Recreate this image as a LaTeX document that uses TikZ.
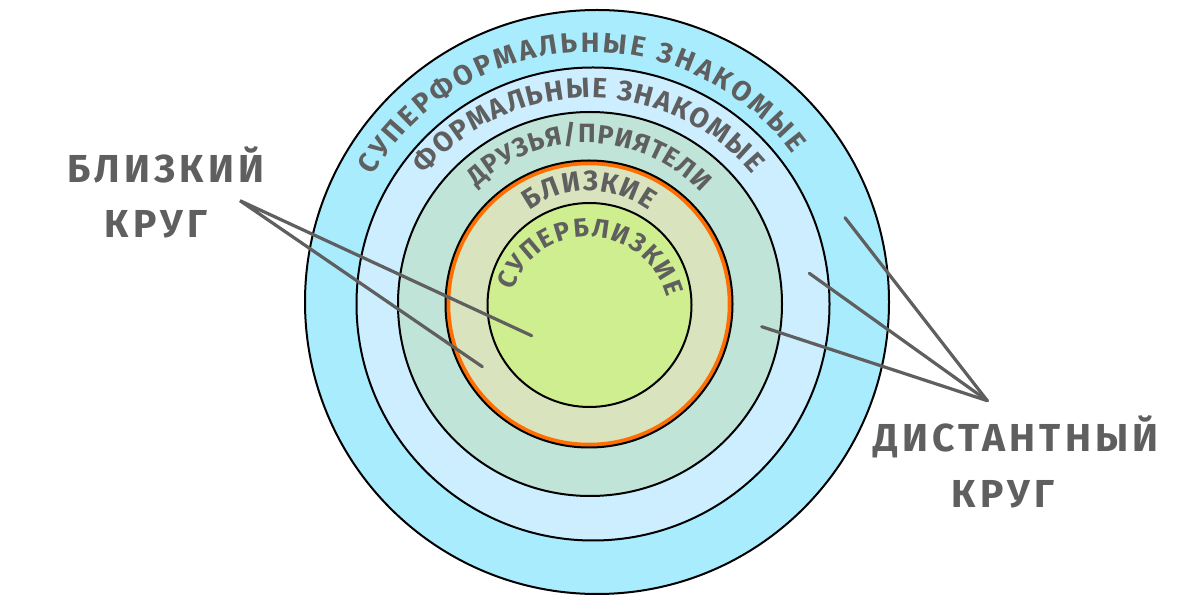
\documentclass[tikz,border=0pt]{standalone}
\usepackage{fontspec}
\setmainfont{Fira Sans}
\usepackage{tikz}
\usetikzlibrary{decorations.text}

\definecolor{ink}{RGB}{95,95,95}
\definecolor{superformal}{RGB}{168,236,253}
\definecolor{formal}{RGB}{204,238,255}
\definecolor{friends}{RGB}{192,228,216}
\definecolor{close}{RGB}{217,228,190}
\definecolor{superclose}{RGB}{207,238,143}
\definecolor{closeline}{RGB}{255,110,0}

\newcommand\ringfont{\fontsize{28}{28}\selectfont\bfseries\color{ink}}
\newcommand\friendfont{\fontsize{26.5}{28}\selectfont\bfseries\color{ink}}
\newcommand\innerfont{\fontsize{26}{28}\selectfont\bfseries\color{ink}}
\newcommand\labelfont{\fontsize{39}{44}\selectfont\bfseries\addfontfeatures{LetterSpace=11}}

\begin{document}
\begin{tikzpicture}[x=1pt, y=1pt,
    ring/.style={draw=black, line width=2pt},
    pointer/.style={draw=ink, line width=3.2pt, line cap=round},
    label/.style={text=ink, font=\labelfont, inner sep=0pt, anchor=base},
    ringtext/.style={decorate, decoration={text along path, text align={fit to path}, text={#1}}}]
    \useasboundingbox (0,0) rectangle (1200,600);
    \fill[white] (0,0) rectangle (1200,600);

    % Rings from outside to inside
    \fill[superformal] (597,298) circle[radius=292]; \draw[ring] (597,298) circle[radius=292];
    \fill[formal] (593,296) circle[radius=236.5]; \draw[ring] (593,296) circle[radius=236.5];
    \fill[friends] (590,296) circle[radius=192]; \draw[ring] (590,296) circle[radius=192];
    \fill[close] (589,296) circle[radius=141]; \draw[closeline, line width=4.5pt] (589,296) circle[radius=141];
    \draw[ring] (589,296) circle[radius=143.5];
    \fill[superclose] (589.5,295) circle[radius=102]; \draw[ring] (589.5,295) circle[radius=102];

    % Ring names
    \path[ringtext={|\ringfont|СУПЕРФОРМАЛЬНЫЕ ЗНАКОМЫЕ}] (590,296) ++(149.4:252) arc[start angle=149.4, end angle=36.5, radius=252];
    \path[ringtext={|\ringfont|ФОРМАЛЬНЫЕ ЗНАКОМЫЕ}] (588.6,289) ++(140.2:213) arc[start angle=140.2, end angle=40, radius=213];
    \path[ringtext={|\friendfont|ДРУЗЬЯ/ПРИЯТЕЛИ}] (586,299) ++(134:158) arc[start angle=134, end angle=43.5, radius=158];
    \path[ringtext={|\ringfont|БЛИЗКИЕ}] (589,309) ++(126.4:100) arc[start angle=126.4, end angle=53.6, radius=100];
    \path[ringtext={|\innerfont|СУПЕРБЛИЗКИЕ}] (588.5,282) ++(160:81) arc[start angle=160, end angle=15, radius=81];

    % Labels
    \node[label] (closeTop) at (166,417) {БЛИЗКИЙ};
    \node[label] (closeBottom) at (156,362) {КРУГ};
    \node[label] (farTop) at (1016,148) {ДИСТАНТНЫЙ};
    \node[label] (farBottom) at (1003,92) {КРУГ};

    % Pointers
    \coordinate (closeTip) at (240,399.3);
    \coordinate (superEnd) at (531.7,264.3);
    \coordinate (closeEnd) at (482.3,233.3);
    \coordinate (farTip) at (987.3,199.3);
    \coordinate (superformalEnd) at (845,382.3);
    \coordinate (formalEnd) at (809.3,326.7);
    \coordinate (friendsEnd) at (761.7,273.3);
    \draw[pointer] (superEnd) -- (closeTip) -- (closeEnd);
    \draw[pointer] (superformalEnd) -- (farTip);
    \draw[pointer] (formalEnd) -- (farTip);
    \draw[pointer] (friendsEnd) -- (farTip);
\end{tikzpicture}
\end{document}
